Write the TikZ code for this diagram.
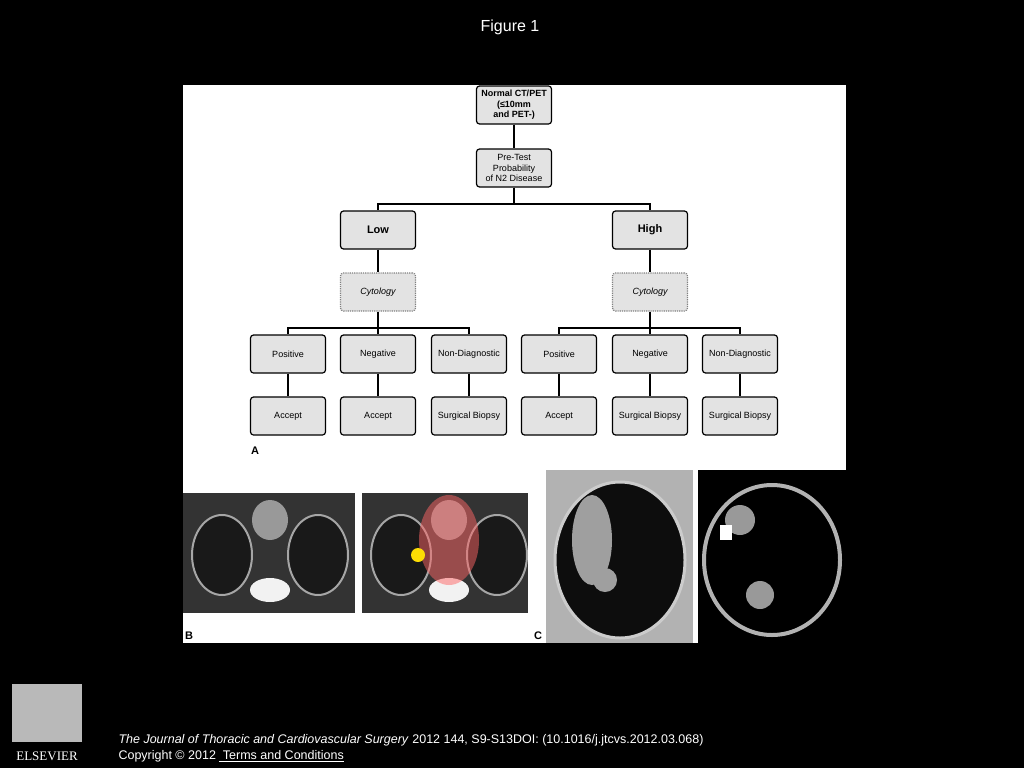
\documentclass[tikz,border=0pt]{standalone}
\usepackage{fontspec}
\setmainfont{Liberation Sans}
\newfontfamily\serifx{Liberation Serif}
\begin{document}
\begin{tikzpicture}[x=1pt,y=-1pt,
  bx/.style={draw=black,line width=1.2pt,fill=gray!22,rounded corners=3pt,minimum width=75pt,minimum height=38pt,align=center,font=\fontsize{9}{10.5}\selectfont,inner sep=1pt},
  cy/.style={bx,draw=gray,densely dotted,font=\fontsize{9}{10.5}\selectfont\itshape},
  ln/.style={line width=1.8pt},
  lung/.style={fill=black!90,draw=gray!70,line width=2pt}]
\fill[black] (0,0) rectangle (1024,768);
\useasboundingbox (0,0) rectangle (1024,768);
\fill[white] (183,85) rectangle (846,643);
\node[white,font=\fontsize{16}{18}\selectfont] (title) at (510,27) {Figure 1};
% nodes
\node[bx,font=\fontsize{9}{10.5}\selectfont\bfseries] (n) at (514,105) {Normal CT/PET\\(≤10mm\\and PET-)};
\node[bx] (p) at (514,168) {Pre-Test\\Probability\\of N2 Disease};
\node[bx,font=\fontsize{11}{13}\selectfont\bfseries] (lo) at (378,230) {Low};
\node[bx,font=\fontsize{11}{13}\selectfont\bfseries] (hi) at (650,230) {High};
\node[cy] (cl) at (378,292) {Cytology};
\node[cy] (ch) at (650,292) {Cytology};
\node[bx] (lp) at (288,354) {Positive};
\node[bx] (ln) at (378,354) {Negative};
\node[bx] (ld) at (469,354) {Non-Diagnostic};
\node[bx] (hp) at (559,354) {Positive};
\node[bx] (hn) at (650,354) {Negative};
\node[bx] (hd) at (740,354) {Non-Diagnostic};
\node[bx] (la1) at (288,416) {Accept};
\node[bx] (la2) at (378,416) {Accept};
\node[bx] (ls) at (469,416) {Surgical Biopsy};
\node[bx] (ha) at (559,416) {Accept};
\node[bx] (hs1) at (650,416) {Surgical Biopsy};
\node[bx] (hs2) at (740,416) {Surgical Biopsy};
% connectors
\draw[ln] (n) -- (p);
\draw[ln] (p.south) -- ++(0,16) -| (lo.north);
\draw[ln] (p.south) -- ++(0,16) -| (hi.north);
\draw[ln] (lo) -- (cl); \draw[ln] (hi) -- (ch);
\foreach \c/\k in {cl/lp,cl/ln,cl/ld,ch/hp,ch/hn,ch/hd}{\draw[ln] (\c.south) -- ++(0,16) -| (\k.north);}
\foreach \a/\b in {lp/la1,ln/la2,ld/ls,hp/ha,hn/hs1,hd/hs2}{\draw[ln] (\a) -- (\b);}
\node[font=\fontsize{11}{13}\selectfont\bfseries] (la) at (255,451) {A};
\node[font=\fontsize{11}{13}\selectfont\bfseries] (lb) at (189,636) {B};
\node[font=\fontsize{11}{13}\selectfont\bfseries] (lc) at (538,636) {C};
% images
\fill[black!80] (183,493) rectangle (355,613);
\fill[black!80] (362,493) rectangle (528,613);
\fill[gray!60] (546,470) rectangle (693,643);
\fill[black] (698,470) rectangle (846,643);
\foreach \dx in {0,179}{
 \fill[lung] (222+\dx,555) ellipse (30 and 40);
 \fill[lung] (318+\dx,555) ellipse (30 and 40);
 \fill[gray!80] (270+\dx,520) ellipse (18 and 20);
 \fill[white!90!gray] (270+\dx,590) ellipse (20 and 12);}
\fill[red!60,opacity=.5] (449,540) ellipse (30 and 45);
\fill[yellow!80!orange] (418,555) circle (7);
\fill[black!95,draw=gray!40,line width=3pt] (620,560) ellipse (65 and 78);
\fill[gray!75] (592,540) ellipse (20 and 45);
\fill[gray!75] (605,580) circle (12);
\fill[black,draw=gray!60,line width=4pt] (772,560) ellipse (68 and 75);
\fill[gray!80] (740,520) circle (15);
\fill[gray!80] (760,595) circle (14);
\fill[white] (720,525) rectangle (732,540);
% footer
\fill[gray!55] (12,684) rectangle (82,742);
\node[white,font=\serifx\fontsize{13}{14}\selectfont] (els) at (47,756) {ELSEVIER};
\node[white,anchor=west,font=\fontsize{12.5}{14}\selectfont] (j) at (115,740) {\textit{The Journal of Thoracic and Cardiovascular Surgery} 2012 144, S9-S13DOI: (10.1016/j.jtcvs.2012.03.068)};
\node[white,anchor=west,font=\fontsize{12.5}{14}\selectfont] (c) at (115,756) {Copyright © 2012 \underline{ Terms and Conditions}};
\end{tikzpicture}
\end{document}
